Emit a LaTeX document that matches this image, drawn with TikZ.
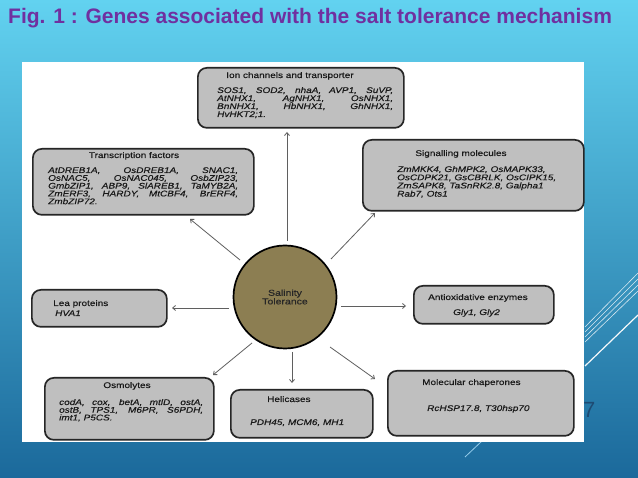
\documentclass[tikz,border=0pt]{standalone}
\usepackage{fontspec}
\setmainfont{Liberation Sans}
\newfontfamily\dfont[FakeStretch=1.22,FakeBold=0.35]{Liberation Sans}
\usetikzlibrary{arrows.meta}
\definecolor{ttlpurple}{RGB}{112,48,160}
\definecolor{bgtop}{RGB}{98,210,240}
\definecolor{bgmid}{RGB}{55,160,210}
\definecolor{bgbot}{RGB}{27,105,155}
\definecolor{olivec}{RGB}{140,126,82}
\definecolor{pagenum}{RGB}{30,75,115}
\definecolor{arrgray}{RGB}{95,95,95}
\definecolor{faintline}{RGB}{150,205,235}
\newcommand{\jline}[2]{\makebox[#1][s]{#2}\par}
\tikzset{
  box/.style={draw=black!85, line width=1.7pt, fill=black!25, rounded corners=9pt, inner sep=0pt, anchor=north west},
  ttl/.style={font=\dfont\fontsize{8.2}{8}\selectfont, inner sep=0pt, anchor=base, text=black!90},
  bod/.style={font=\dfont\itshape\fontsize{8.2}{8}\selectfont, inner sep=0pt, anchor=base west, text=black!90},
  arr/.style={draw=arrgray, line width=0.8pt, -{Straight Barb[length=3pt,width=5pt]}},
  deco/.style={draw=white, line width=0.6pt, opacity=0.8}
}
\begin{document}
\begin{tikzpicture}[x=1pt,y=-1pt]
\useasboundingbox (0,0) rectangle (638,478);
\shade[top color=bgtop, middle color=bgmid, bottom color=bgbot] (0,0) rectangle (638,478);
% decorative lines
\draw[deco] (585,327) -- (638,273);
\draw[deco] (585,332) -- (638,279);
\draw[deco] (585,337) -- (638,285);
\draw[deco] (585,342) -- (638,291);
\draw[deco, line width=1.2pt, opacity=0.95] (585,366) -- (638,315);
\draw[draw=faintline, line width=0.8pt] (465,457) -- (482,441);
% title
\node[font=\bfseries\fontsize{21}{24}\selectfont, text=ttlpurple, anchor=base west, inner sep=0pt] (title) at (8,24) {Fig. 1 : Genes associated with the salt tolerance mechanism};
% white image area
\fill[white] (22,62) rectangle (584,442);
% page number
\node[font=\fontsize{22}{24}\selectfont, text=pagenum, anchor=base west, inner sep=0pt] (pnum) at (583,418) {7};

% boxes
\node[box, minimum width=206pt, minimum height=60pt] (ion) at (197,67) {};
\node[ttl] (iont) at (290,78) {Ion channels and transporter};
\node[bod] (ionb) at (217,93) {\parbox[t]{176pt}{\fontsize{8.2}{8}\selectfont
\jline{176pt}{SOS1, SOD2, nhaA, AVP1, SuVP,}
\jline{176pt}{AtNHX1, AgNHX1, OsNHX1,}
\jline{176pt}{BnNHX1, HbNHX1, GhNHX1,}
HvHKT2;1.}};

\node[box, minimum width=221pt, minimum height=66pt] (tf) at (32,148) {};
\node[ttl] (tft) at (134,158) {Transcription factors};
\node[bod] (tfb) at (48,173) {\parbox[t]{190pt}{\fontsize{8.2}{7.8}\selectfont
\jline{190pt}{AtDREB1A, OsDREB1A, SNAC1,}
\jline{190pt}{OsNAC5, OsNAC045, OsbZIP23,}
\jline{190pt}{GmbZIP1, ABP9, SlAREB1, TaMYB2A,}
\jline{190pt}{ZmERF3, HARDY, MtCBF4, BrERF4,}
ZmbZIP72.}};

\node[box, minimum width=221pt, minimum height=71pt] (sig) at (362,139) {};
\node[ttl] (sigt) at (461,156) {Signalling molecules};
\node[bod] (sigb) at (397,172) {\parbox[t]{170pt}{\fontsize{8.2}{8.2}\selectfont
ZmMKK4, GhMPK2, OsMAPK33,\par
OsCDPK21, GsCBRLK, OsCIPK15,\par
ZmSAPK8, TaSnRK2.8, Galpha1\par
Rab7, Ots1}};

\node[box, minimum width=135pt, minimum height=37pt] (lea) at (31,289) {};
\node[ttl, anchor=base west] (leat) at (53,306) {Lea proteins};
\node[bod] (leab) at (55,316) {HVA1};

\node[box, minimum width=140pt, minimum height=38pt] (anti) at (413,285) {};
\node[ttl, anchor=base west] (antit) at (428,300) {Antioxidative enzymes};
\node[bod] (antib) at (453,315) {Gly1, Gly2};

\node[box, minimum width=169pt, minimum height=62pt] (osm) at (44,377) {};
\node[ttl] (osmt) at (127,388) {Osmolytes};
\node[bod] (osmb) at (59,405) {\parbox[t]{144pt}{\fontsize{8.2}{7.7}\selectfont
\jline{144pt}{codA, cox, betA, mtlD, ostA,}
\jline{144pt}{ostB, TPS1, M6PR, S6PDH,}
imt1, P5CS.}};

\node[box, minimum width=142pt, minimum height=48pt] (hel) at (230,389) {};
\node[ttl, anchor=base west] (helt) at (267,402) {Helicases};
\node[bod] (helb) at (250,425) {PDH45, MCM6, MH1};

\node[box, minimum width=186pt, minimum height=65pt] (chap) at (387,370) {};
\node[ttl, anchor=base west] (chapt) at (422,385) {Molecular chaperones};
\node[bod] (chapb) at (427,411) {RcHSP17.8, T30hsp70};

% center
\node[circle, draw=black, line width=1.7pt, fill=olivec, minimum size=103pt, inner sep=0pt, align=center,
      font=\dfont\fontsize{8.6}{8.6}\selectfont, text=black!85] (st) at (285,297) {Salinity\\Tolerance};

% arrows
\coordinate (tU) at (287,241); \coordinate (hU) at (287,132);
\coordinate (tUL) at (240,260); \coordinate (hUL) at (190,219);
\coordinate (tUR) at (331,259); \coordinate (hUR) at (375,213);
\coordinate (tL) at (229,308); \coordinate (hL) at (172,308);
\coordinate (tR) at (341,306); \coordinate (hR) at (406,306);
\coordinate (tLL) at (252,343); \coordinate (hLL) at (213,375);
\coordinate (tD) at (292,352); \coordinate (hD) at (292,383);
\coordinate (tLR) at (330,347); \coordinate (hLR) at (375,379);
\draw[arr] (tU) -- (hU);
\draw[arr] (tUL) -- (hUL);
\draw[arr] (tUR) -- (hUR);
\draw[arr] (tL) -- (hL);
\draw[arr] (tR) -- (hR);
\draw[arr] (tLL) -- (hLL);
\draw[arr] (tD) -- (hD);
\draw[arr] (tLR) -- (hLR);
\end{tikzpicture}
\end{document}
